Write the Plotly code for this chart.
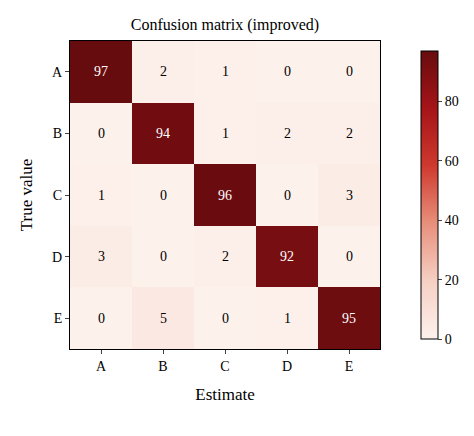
import plotly.graph_objects as go

labels = ["A", "B", "C", "D", "E"]
values = [
    [97, 2, 1, 0, 0],
    [0, 94, 1, 2, 2],
    [1, 0, 96, 0, 3],
    [3, 0, 2, 92, 0],
    [0, 5, 0, 1, 95],
]

colorscale = [
    [0.0, "#fdf1ec"],
    [0.2, "#f6d0c4"],
    [0.4, "#e8907c"],
    [0.6, "#cf3a2e"],
    [0.8, "#a51418"],
    [1.0, "#670c0e"],
]

fig = go.Figure(
    go.Heatmap(
        z=values,
        x=labels,
        y=labels,
        colorscale=colorscale,
        zmin=0,
        zmax=97,
        showscale=True,
        colorbar=dict(
            thickness=17,
            len=1.0,
            x=1.1,
            xanchor="left",
            y=0.5,
            yanchor="middle",
            tickvals=[0, 20, 40, 60, 80],
            ticks="outside",
            ticklen=4,
            outlinecolor="black",
            outlinewidth=1,
            tickfont=dict(size=14, family="Liberation Serif"),
        ),
    )
)

# cell labels: white on dark cells, black on light ones
for i, row in enumerate(values):
    for j, v in enumerate(row):
        fig.add_annotation(
            x=labels[j], y=labels[i], text=str(v), showarrow=False,
            font=dict(size=14, color="white" if v > 50 else "black"),
        )

fig.update_layout(
    width=474,
    height=436,
    margin=dict(l=62, r=97, t=33, b=95),
    paper_bgcolor="white",
    plot_bgcolor="white",
    font=dict(family="Liberation Serif, DejaVu Serif, serif", size=14, color="black"),
    title=dict(text="Confusion matrix (improved)", x=0.5, xref="paper", y=0.975, yanchor="top", font=dict(size=16)),
)
fig.update_xaxes(
    title_text="Estimate", showline=True, linecolor="black", mirror=True,
    ticks="outside", ticklen=4, tickfont=dict(size=14),
)
fig.update_yaxes(
    title_text="True value", autorange="reversed", showline=True, linecolor="black",
    mirror=True, ticks="outside", ticklen=4, tickfont=dict(size=14),
)

fig.write_html("out.html")
